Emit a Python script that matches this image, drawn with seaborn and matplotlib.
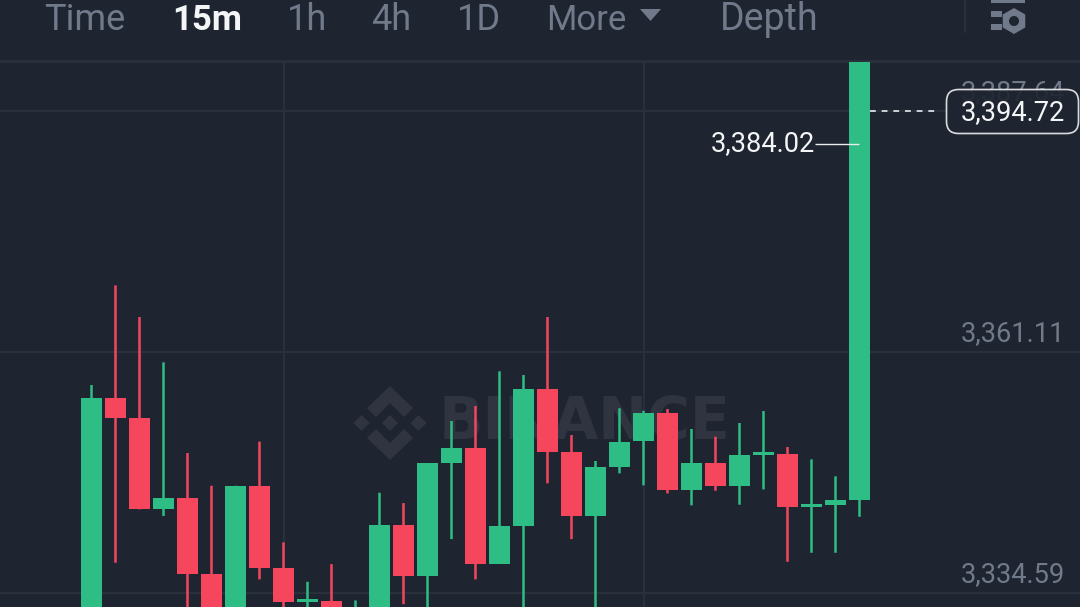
import matplotlib
matplotlib.use("Agg")
import matplotlib.pyplot as plt
import numpy as np
import pandas as pd
import seaborn as sns
from matplotlib.patches import FancyBboxPatch, Polygon, Rectangle, Circle

# ---- data ----
opens = [3329.34, 3356.04, 3353.80, 3343.76, 3345.00, 3336.59, 3328.24, 3346.36, 3337.32, 3333.53, 3333.64,
         3329.89, 3329.34, 3342.03, 3336.43, 3348.87, 3350.49, 3337.76, 3341.95, 3357.00, 3350.08, 3342.99,
         3348.39, 3351.26, 3354.38, 3345.92, 3348.87, 3346.36, 3349.71, 3349.86, 3343.98, 3344.27, 3344.78]
closes = [3356.04, 3353.80, 3343.76, 3345.00, 3336.59, 3330.44, 3346.36, 3337.32, 3333.57, 3333.90, 3331.00,
          3332.10, 3342.03, 3336.43, 3348.87, 3350.49, 3337.76, 3341.95, 3357.00, 3350.08, 3342.99, 3348.39,
          3351.22, 3354.38, 3345.92, 3348.87, 3346.36, 3349.71, 3350.05, 3343.98, 3344.31, 3344.75, 3394.72]
highs = [3357.47, 3368.45, 3364.97, 3359.97, 3349.97, 3346.36, 3346.36, 3351.22, 3340.12, 3335.77, 3337.72,
         3333.72, 3345.59, 3344.45, 3348.87, 3353.50, 3355.15, 3358.98, 3358.57, 3364.97, 3351.95, 3349.09,
         3354.90, 3354.63, 3354.82, 3352.62, 3351.77, 3353.28, 3354.60, 3350.63, 3349.27, 3347.40, 3394.72]
lows = [3327.69, 3337.87, 3343.76, 3343.02, 3331.00, 3327.69, 3328.24, 3336.04, 3332.43, 3331.00, 3329.34,
        3328.24, 3328.24, 3333.31, 3331.00, 3340.48, 3336.04, 3337.76, 3329.34, 3346.63, 3340.48, 3329.34,
        3347.73, 3346.41, 3345.52, 3344.20, 3345.81, 3344.27, 3345.96, 3337.98, 3338.97, 3338.97, 3342.94]
price_ticks = [3387.64, 3361.11, 3334.59]
price_labels = ["3,387.64", "3,361.11", "3,334.59"]
grid_candles = [8, 23]
last_price_label = "3,394.72"
max_price = 3384.02
max_price_label = "3,384.02"
header_labels = ["Time", "15m", "1h", "4h", "1D", "More", "Depth"]

# ---- style ----
BG = "#1F2530"
GRID = "#2B313C"
GREEN = "#2EBD85"
RED = "#F6465D"
MUTED = "#707A8A"
sns.set_theme(style="dark", rc={"figure.facecolor": BG, "axes.facecolor": BG})
plt.rcParams["font.family"] = ["Roboto", "DejaVu Sans"]

W, H = 1080, 607
fig = plt.figure(figsize=(W / 100, H / 100), dpi=100, facecolor=BG)

def pixel_axes(z):
    a = fig.add_axes([0, 0, 1, 1], zorder=z)
    a.set_xlim(0, W)
    a.set_ylim(H, 0)
    a.axis("off")
    return a

back = pixel_axes(0)
front = pixel_axes(2)

# main chart area
top_px = 62
ax = fig.add_axes([0, 0, 1, (H - top_px) / H], zorder=1)
ax.patch.set_alpha(0)

df = pd.DataFrame({"i": np.arange(len(opens)), "open": opens, "close": closes, "high": highs, "low": lows})
df["body"] = (df["close"] - df["open"]).abs()
df["base"] = df[["open", "close"]].min(axis=1)
df["up"] = df["close"] >= df["open"]

for up, col in [(True, GREEN), (False, RED)]:
    s = df[df["up"] == up]
    wicks = ax.vlines(s["i"], s["low"], s["high"], color=col, lw=1.8, zorder=2)
    wicks.set_snap(False)
    sns.barplot(data=s, x="i", y="body", native_scale=True, color=col, saturation=1,
                width=0.875, bottom=s["base"].to_numpy(), linewidth=0, errorbar=None, ax=ax, zorder=3)

# 24 px per candle, first candle centred on x=91.5 px
ax.set_xlim(-91.5 / 24, (W - 91.5) / 24)
ax.set_ylim(3361.11 - (H - 352) * 0.11027, 3361.11 + (352 - top_px) * 0.11027)
ax.set_xticks(grid_candles)
ax.set_yticks(price_ticks)
ax.set_xlabel("")
ax.set_ylabel("")
ax.tick_params(length=0, labelleft=False, labelbottom=False)
ax.set_axisbelow(True)
ax.grid(True, color=GRID, lw=1.4)
sns.despine(ax=ax, left=True, bottom=True)

# highest-price leader on the last candle
ax.hlines(max_price, 30.15, 31.96, color="#EAECEF", lw=1.0, zorder=5)

# separator under header
back.plot([0, W], [60.5, 60.5], color=GRID, lw=2)

# ---- watermark ----
WM = "#2F3440"
top_chev = [(390, 386), (413, 408), (404, 417), (390, 403), (376, 417), (367, 408)]
bot_chev = [(x, 846 - y) for x, y in top_chev]
back.add_patch(Polygon(top_chev, fc=WM, ec="none"))
back.add_patch(Polygon(bot_chev, fc=WM, ec="none"))
for cx in (361.5, 390, 418.5):
    back.add_patch(Polygon([(cx - 8, 423), (cx, 415), (cx + 8, 423), (cx, 431)], fc=WM, ec="none"))
back.text(439, 423, "BINANCE", color=WM, fontsize=42, fontweight="bold", family="DejaVu Sans",
          va="center", ha="left")

# ---- header ----
hx = [44, 172, 287, 371, 457, 546, 720]
hsize = [26, 25, 26, 26, 26, 25, 27]
for lab, x, fs in zip(header_labels, hx, hsize):
    sel = lab == "15m"
    front.text(x, 30.5, lab, color="#F4F5F7" if sel else MUTED, fontsize=fs,
               fontweight="bold" if sel else "normal", ha="left", va="baseline")
front.add_patch(Polygon([(640, 9), (661, 9), (650.5, 21)], fc=MUTED, ec="none"))
front.plot([964.5, 964.5], [0, 32], color=GRID, lw=1.5)
front.add_patch(Rectangle((991, 0), 34, 3, fc=MUTED, ec="none"))
front.add_patch(Rectangle((991, 11), 11, 6, fc=MUTED, ec="none"))
front.add_patch(Rectangle((991, 24), 11, 6, fc=MUTED, ec="none"))
hexa = [(1014 + 13 * np.sin(a), 21 + 13 * np.cos(a)) for a in np.arange(6) * np.pi / 3]
front.add_patch(Polygon(hexa, fc=MUTED, ec="none"))
front.add_patch(Circle((1014, 21), 5, fc=BG, ec="none"))

# ---- price labels ----
for lab, y in zip(price_labels, [93, 334, 575]):
    front.text(1013, y, lab, color=MUTED, fontsize=19.6, ha="center", va="center")

front.add_patch(FancyBboxPatch((946.5, 89.5), 132, 44, boxstyle="round,pad=0,rounding_size=12",
                               fc=BG, ec="#EAECEF", lw=1.2, alpha=0.92, zorder=4, mutation_aspect=1))
front.text(1013, 113, last_price_label, color="#F4F5F7", fontsize=19.6, ha="center", va="center", zorder=5)
front.plot([870, 938], [111, 111], color="#EAECEF", lw=1.2, dashes=(3.5, 3.5))
front.text(815, 143.5, max_price_label, color="#F4F5F7", fontsize=19.6, ha="right", va="center")

fig.savefig("out.png", dpi=100, facecolor=BG)
